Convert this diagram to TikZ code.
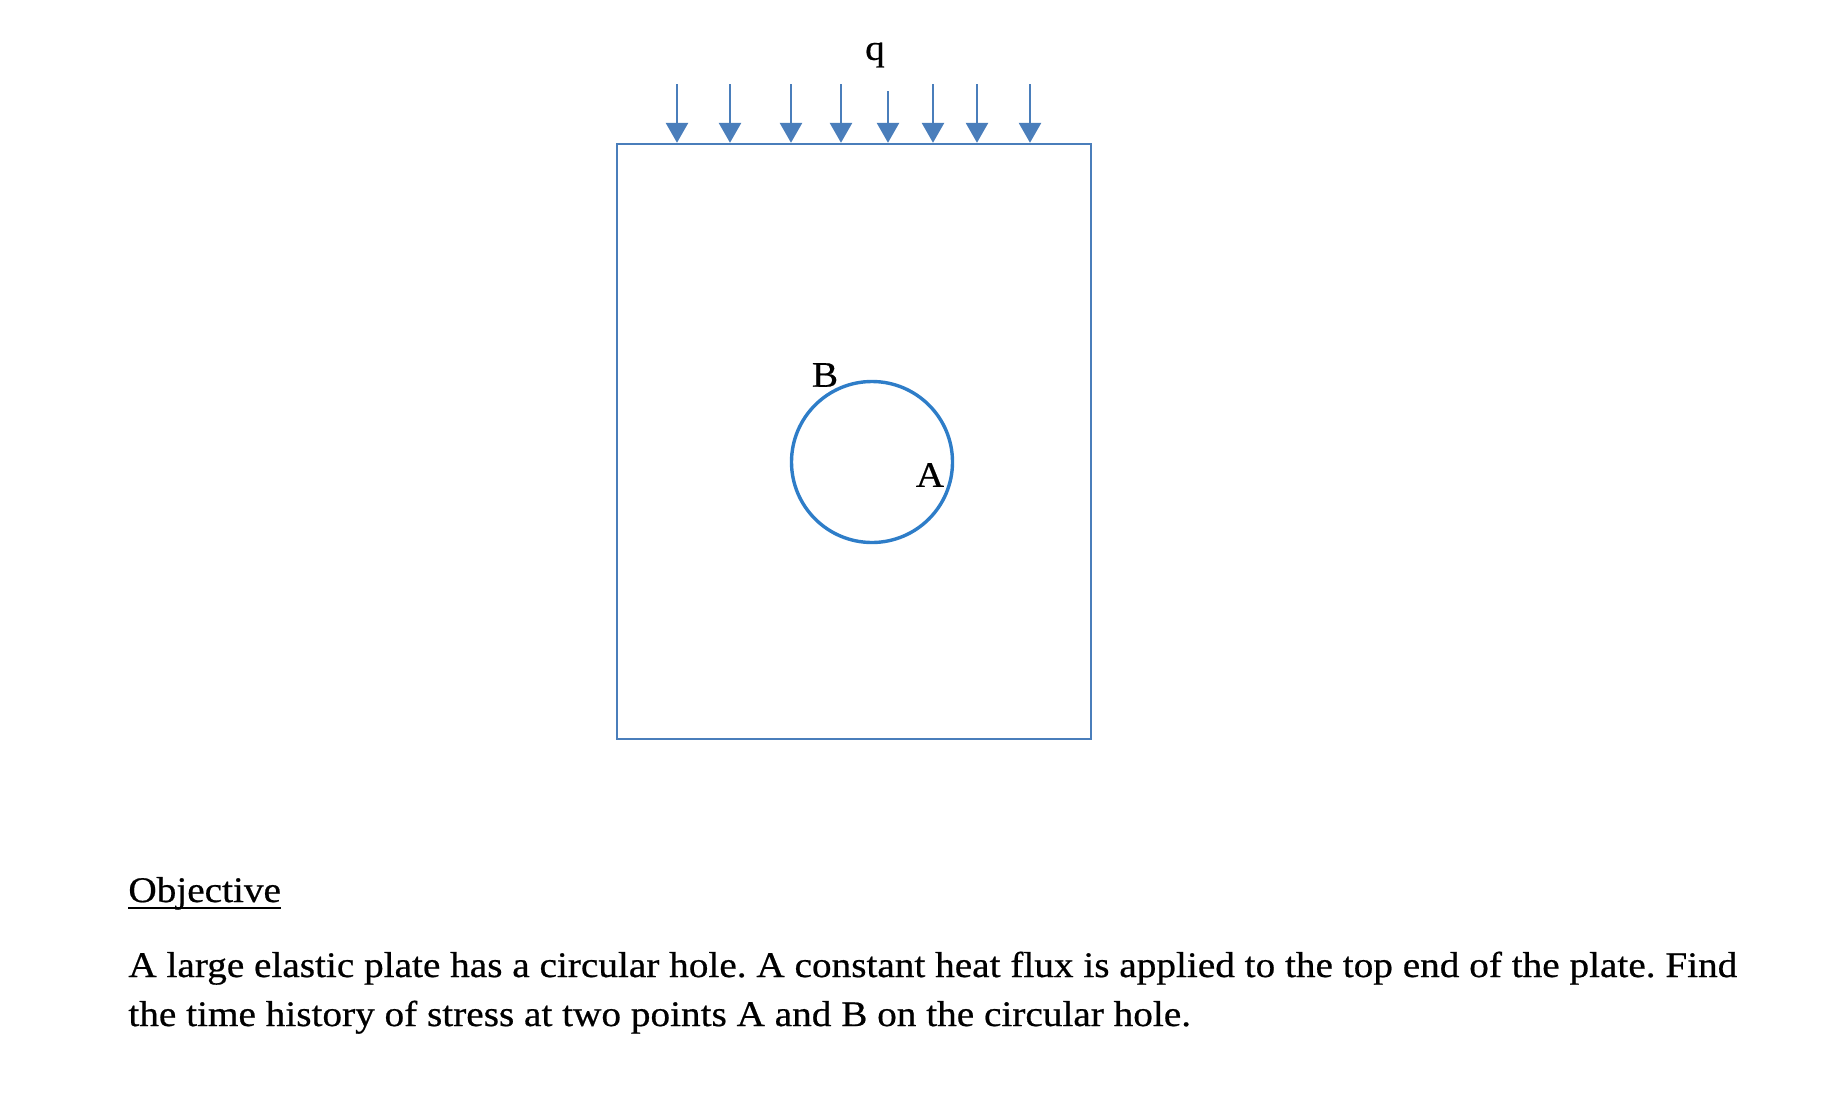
\documentclass[tikz,border=0pt]{standalone}
\usepackage{fontspec}
\setmainfont{Liberation Serif}[FakeStretch=1.09,FakeBold=0.6]
\usetikzlibrary{arrows.meta,positioning}
\definecolor{LoadBlue}{RGB}{74,126,187}
\definecolor{HoleBlue}{RGB}{46,125,200}
\frenchspacing

\begin{document}
\begin{tikzpicture}[x=0.5pt,y=-0.5pt,font=\fontsize{18}{24.5}\selectfont]
  \tikzstyle{PlateStyle}=[draw=LoadBlue,line width=1.2pt,minimum width=237pt,minimum height=297.5pt,inner sep=0pt]
  \tikzstyle{HoleStyle}=[circle,draw=HoleBlue,line width=1.7pt,minimum size=80.5pt,inner sep=0pt]
  \tikzstyle{LoadStyle}=[draw=LoadBlue,line width=1.4pt,-{Triangle[length=10pt,width=11pt]}]
  \tikzstyle{LabelStyle}=[inner sep=0pt]
  \useasboundingbox (0,0) rectangle (1826,1098);
  \node[PlateStyle] (plate) at (854,441.5) {};
  \node[HoleStyle] (hole) at (872,462) {};
  \node[LabelStyle] (B) at (825,375) {B};
  \node[LabelStyle] (A) at (930,475) {A};
  \node[LabelStyle] (q) at (875,55) {q};
  % distributed load
  \foreach \x/\y [count=\i] in {677/84,730/84,791/84,841/84,888/91,933/84,977/84,1030/84}{
    \coordinate (top\i) at (\x,\y);
    \draw[LoadStyle] (top\i) -- (top\i |- plate.north);
  }
  \node[LabelStyle,anchor=base west] (obj) at (128,902) {Objective};
  \draw[line width=1pt] ([yshift=-3pt]obj.base west) -- ([yshift=-3pt]obj.base east);
  \node[LabelStyle,anchor=base west] (line1) at (128,977) {A large elastic plate has a circular hole. A constant heat flux is applied to the top end of the plate. Find};
  \node[LabelStyle,anchor=base west] (line2) at (128,1026) {the time history of stress at two points A and B on the circular hole.};
\end{tikzpicture}
\end{document}
